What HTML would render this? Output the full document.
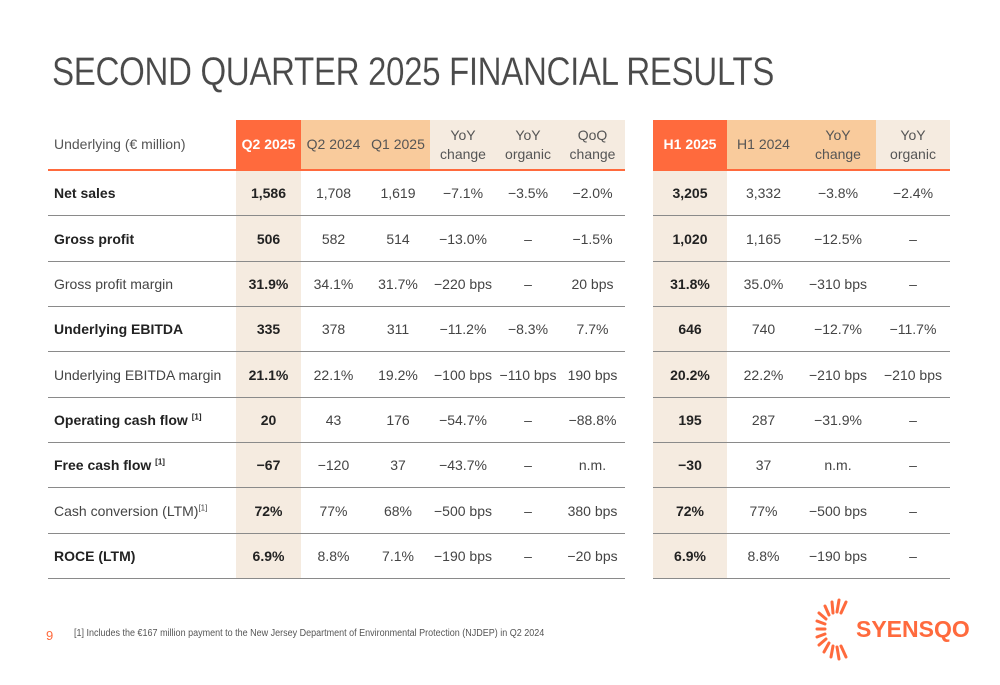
<!DOCTYPE html>
<html><head><meta charset="utf-8"><style>
body{margin:0;width:1000px;height:685px;background:#fff;font-family:"Liberation Sans",sans-serif;color:#333;position:relative;overflow:hidden}
h1{position:absolute;left:52px;top:50px;margin:0;font-weight:normal;font-size:40px;letter-spacing:-0.5px;color:#4a4a4a;transform:scaleX(0.83);transform-origin:left;-webkit-text-stroke:0.2px #fff}
table{position:absolute;top:120px;border-collapse:collapse;font-size:14px}
td,th{padding:0;text-align:center;height:44.35px;border-bottom:1.5px solid #8a8a8a;color:#444;white-space:nowrap}
th{height:49px;font-weight:normal;border-bottom:2px solid #ff6a3d;line-height:19px;color:#555}
td.l,th.l{text-align:left;padding-left:6px}
.o{background:#ff6a3d;color:#fff!important;font-weight:bold}
.lo{background:#f9cb9c}
.be{background:#f5ebe0}
.b{font-weight:bold;color:#222}
sup{font-size:8px}
</style></head><body>
<h1>SECOND QUARTER 2025 FINANCIAL RESULTS</h1>
<table style="left:48px;width:577px">
<colgroup><col style="width:188px"><col style="width:65px"><col style="width:65px"><col style="width:64px"><col style="width:66px"><col style="width:64px"><col style="width:65px"></colgroup>
<tr><th class="l">Underlying (€ million)</th><th class="o">Q2 2025</th><th class="lo">Q2 2024</th><th class="lo">Q1 2025</th><th class="be">YoY<br>change</th><th class="be">YoY<br>organic</th><th class="be">QoQ<br>change</th></tr>
<tr><td class="l b">Net sales</td><td class="be b">1,586</td><td>1,708</td><td>1,619</td><td>−7.1%</td><td>−3.5%</td><td>−2.0%</td></tr>
<tr><td class="l b">Gross profit</td><td class="be b">506</td><td>582</td><td>514</td><td>−13.0%</td><td>–</td><td>−1.5%</td></tr>
<tr><td class="l">Gross profit margin</td><td class="be b">31.9%</td><td>34.1%</td><td>31.7%</td><td>−220 bps</td><td>–</td><td>20 bps</td></tr>
<tr><td class="l b">Underlying EBITDA</td><td class="be b">335</td><td>378</td><td>311</td><td>−11.2%</td><td>−8.3%</td><td>7.7%</td></tr>
<tr><td class="l">Underlying EBITDA margin</td><td class="be b">21.1%</td><td>22.1%</td><td>19.2%</td><td>−100 bps</td><td>−110 bps</td><td>190 bps</td></tr>
<tr><td class="l b">Operating cash flow <sup>[1]</sup></td><td class="be b">20</td><td>43</td><td>176</td><td>−54.7%</td><td>–</td><td>−88.8%</td></tr>
<tr><td class="l b">Free cash flow <sup>[1]</sup></td><td class="be b">−67</td><td>−120</td><td>37</td><td>−43.7%</td><td>–</td><td>n.m.</td></tr>
<tr><td class="l">Cash conversion (LTM)<sup>[1]</sup></td><td class="be b">72%</td><td>77%</td><td>68%</td><td>−500 bps</td><td>–</td><td>380 bps</td></tr>
<tr><td class="l b">ROCE (LTM)</td><td class="be b">6.9%</td><td>8.8%</td><td>7.1%</td><td>−190 bps</td><td>–</td><td>−20 bps</td></tr>
</table>
<table style="left:653px;width:297px">
<colgroup><col style="width:74px"><col style="width:73px"><col style="width:76px"><col style="width:74px"></colgroup>
<tr><th class="o">H1 2025</th><th class="lo">H1 2024</th><th class="lo">YoY<br>change</th><th class="be">YoY<br>organic</th></tr>
<tr><td class="be b">3,205</td><td>3,332</td><td>−3.8%</td><td>−2.4%</td></tr>
<tr><td class="be b">1,020</td><td>1,165</td><td>−12.5%</td><td>–</td></tr>
<tr><td class="be b">31.8%</td><td>35.0%</td><td>−310 bps</td><td>–</td></tr>
<tr><td class="be b">646</td><td>740</td><td>−12.7%</td><td>−11.7%</td></tr>
<tr><td class="be b">20.2%</td><td>22.2%</td><td>−210 bps</td><td>−210 bps</td></tr>
<tr><td class="be b">195</td><td>287</td><td>−31.9%</td><td>–</td></tr>
<tr><td class="be b">−30</td><td>37</td><td>n.m.</td><td>–</td></tr>
<tr><td class="be b">72%</td><td>77%</td><td>−500 bps</td><td>–</td></tr>
<tr><td class="be b">6.9%</td><td>8.8%</td><td>−190 bps</td><td>–</td></tr>
</table>
<div style="position:absolute;left:46px;top:628px;color:#ff6a3d;font-size:13px">9</div>
<div style="position:absolute;left:74px;top:628px;font-size:10px;color:#555;transform:scaleX(0.9);transform-origin:left">[1] Includes the €167 million payment to the New Jersey Department of Environmental Protection (NJDEP) in Q2 2024</div>
<svg style="position:absolute;left:815px;top:598px" width="44" height="64" viewBox="0 0 44 64">
<g stroke="#ff6a3d" stroke-width="3" stroke-linecap="round">
<line x1="22" y1="14" x2="24" y2="2"/><line x1="18" y1="15" x2="17" y2="4"/><line x1="14" y1="17" x2="10" y2="8"/><line x1="11" y1="21" x2="4" y2="15"/><line x1="10" y1="26" x2="2" y2="23"/><line x1="10" y1="31" x2="2" y2="31"/><line x1="10" y1="36" x2="2" y2="39"/><line x1="11" y1="41" x2="4" y2="47"/><line x1="14" y1="45" x2="9" y2="54"/><line x1="18" y1="48" x2="16" y2="59"/><line x1="22" y1="49" x2="24" y2="61"/><line x1="26" y1="48" x2="31" y2="59"/><line x1="26" y1="15" x2="31" y2="4"/>
</g></svg>
<div style="position:absolute;left:856px;top:616px;color:#ff6a3d;font-size:23px;font-weight:bold">SYENSQO</div>
</body></html>
